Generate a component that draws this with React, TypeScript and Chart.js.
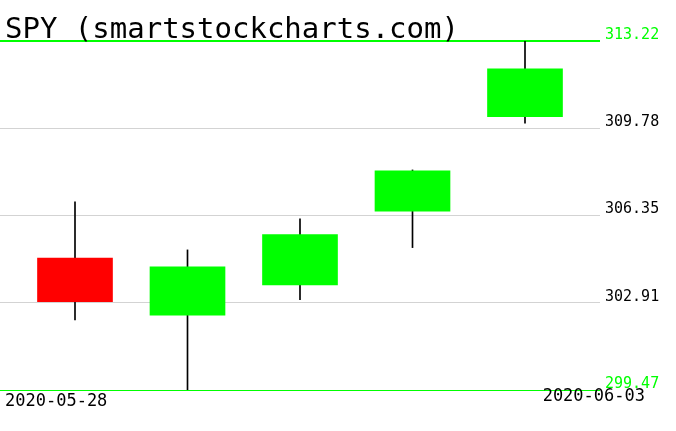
import React, { useEffect, useRef } from 'react';
import { Chart, registerables } from 'chart.js';

Chart.register(...registerables);

// Datos OHLC
const fechas = ['2020-05-28', '2020-05-29', '2020-06-01', '2020-06-02', '2020-06-03'];
const aperturas = [304.67, 302.42, 303.61, 306.52, 310.24];
const maximos = [306.88, 304.99, 306.21, 308.14, 313.22];
const minimos = [302.23, 299.47, 303.03, 305.08, 309.98];
const cierres = [302.95, 304.32, 305.59, 308.10, 312.12];
const ticksY = [299.47, 302.91, 306.35, 309.78, 313.22];
const titulo = 'SPY (smartstockcharts.com)';
const etiquetasX = [fechas[0], fechas[fechas.length - 1]];

const VERDE = '#00ff00';
const ROJO = '#ff0000';
const GRIS = '#d3d3d3';
const FUENTE = '"DejaVu Sans Mono", monospace';

// lineas extremas en verde, el resto gris
const coloresGrid = ticksY.map((_, i) => (i === 0 || i === ticksY.length - 1 ? VERDE : GRIS));
const anchosGrid = ticksY.map((_, i) => (i === ticksY.length - 1 ? 2 : 1));
const coloresTicks = ticksY.map((_, i) => (i === 0 || i === ticksY.length - 1 ? VERDE : '#000000'));

const textosPlugin = {
  id: 'textos',
  afterDraw(chart: any) {
    const { ctx, chartArea } = chart;
    ctx.save();
    ctx.fillStyle = '#000000';
    ctx.textBaseline = 'alphabetic';
    ctx.font = `29px ${FUENTE}`;
    ctx.textAlign = 'left';
    ctx.fillText(titulo, chartArea.left + 5, 38);
    ctx.font = `17px ${FUENTE}`;
    ctx.fillText(etiquetasX[0], chartArea.left + 5, chartArea.bottom + 16);
    ctx.textAlign = 'right';
    ctx.fillText(etiquetasX[1], chartArea.right + 45, chartArea.bottom + 11);
    ctx.restore();
  }
};

const App: React.FC = () => {
  const chartRef = useRef<HTMLCanvasElement>(null);
  const chartInstance = useRef<Chart | null>(null);

  useEffect(() => {
    if (!chartRef.current) return;
    if (chartInstance.current) chartInstance.current.destroy();
    const ctx = chartRef.current.getContext('2d');
    if (!ctx) return;

    const colores = aperturas.map((o, i) => (cierres[i] >= o ? VERDE : ROJO));

    chartInstance.current = new Chart(ctx, {
      type: 'bar',
      data: {
        datasets: [
          {
            label: 'cuerpo',
            data: aperturas.map((o, i) => ({ x: i, y: [o, cierres[i]] })) as any,
            backgroundColor: colores,
            borderWidth: 0,
            barThickness: 75,
            grouped: false,
            order: 0
          } as any,
          {
            label: 'mecha',
            data: maximos.map((h, i) => ({ x: i, y: [minimos[i], h] })) as any,
            backgroundColor: '#000000',
            borderWidth: 0,
            barThickness: 1,
            grouped: false,
            order: 1
          } as any
        ]
      },
      options: {
        responsive: true,
        maintainAspectRatio: false,
        animation: false,
        layout: { padding: { top: 41, bottom: 41, left: 0, right: 0 } },
        plugins: {
          legend: { display: false },
          tooltip: { enabled: false }
        },
        scales: {
          x: {
            type: 'linear',
            display: false,
            min: -2 / 3,
            max: 14 / 3,
            offset: false
          },
          y: {
            position: 'right',
            min: ticksY[0],
            max: ticksY[ticksY.length - 1],
            afterBuildTicks: (scale: any) => {
              scale.ticks = ticksY.map(v => ({ value: v }));
            },
            afterFit: (scale: any) => {
              scale.width = 76;
            },
            border: { display: false },
            grid: {
              drawTicks: false,
              lineWidth: anchosGrid,
              color: coloresGrid
            },
            ticks: {
              padding: 5,
              labelOffset: -6,
              font: { family: FUENTE, size: 15 },
              color: coloresTicks,
              callback: (v: any) => Number(v).toFixed(2)
            }
          }
        }
      },
      plugins: [textosPlugin]
    });

    return () => {
      if (chartInstance.current) {
        chartInstance.current.destroy();
        chartInstance.current = null;
      }
    };
  }, []);

  return (
    <div style={{ position: 'absolute', left: 0, top: 0, width: 676, height: 431, background: '#ffffff' }}>
      <canvas ref={chartRef}></canvas>
    </div>
  );
};

export default App;
